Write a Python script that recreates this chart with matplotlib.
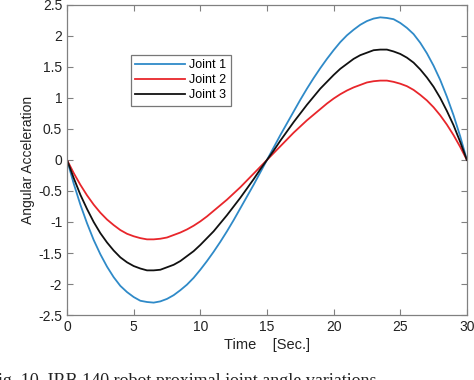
import matplotlib
matplotlib.use("Agg")
import matplotlib.pyplot as plt

plt.rcParams['font.family'] = ['Liberation Sans', 'DejaVu Sans']
plt.rcParams['axes.unicode_minus'] = False

tempo = [i * 0.5 for i in range(61)]

# aceleracao angular (passo de 0.5 s)
junta1 = [0, -0.38, -0.72, -1.02, -1.29, -1.52, -1.72, -1.89, -2.03, -2.13, -2.21,
          -2.27, -2.29, -2.30, -2.28, -2.24, -2.18, -2.10, -2.01, -1.90, -1.77,
          -1.63, -1.48, -1.32, -1.15, -0.97, -0.78, -0.59, -0.40, -0.20, 0,
          0.20, 0.40, 0.59, 0.78, 0.97, 1.15, 1.32, 1.48, 1.63, 1.77,
          1.90, 2.01, 2.10, 2.18, 2.24, 2.28, 2.30, 2.29, 2.27, 2.21,
          2.13, 2.03, 1.89, 1.72, 1.52, 1.29, 1.02, 0.72, 0.38, 0]
junta2 = [0, -0.21, -0.40, -0.57, -0.72, -0.85, -0.96, -1.05, -1.13, -1.19, -1.23,
          -1.26, -1.28, -1.28, -1.27, -1.25, -1.21, -1.17, -1.12, -1.06, -0.99,
          -0.91, -0.82, -0.73, -0.64, -0.54, -0.44, -0.33, -0.22, -0.11, 0,
          0.11, 0.22, 0.33, 0.44, 0.54, 0.64, 0.73, 0.82, 0.91, 0.99,
          1.06, 1.12, 1.17, 1.21, 1.25, 1.27, 1.28, 1.28, 1.26, 1.23,
          1.19, 1.13, 1.05, 0.96, 0.85, 0.72, 0.57, 0.40, 0.21, 0]
junta3 = [0, -0.29, -0.56, -0.79, -1.00, -1.18, -1.33, -1.46, -1.57, -1.65, -1.71,
          -1.75, -1.78, -1.78, -1.77, -1.73, -1.69, -1.63, -1.55, -1.47, -1.37,
          -1.26, -1.15, -1.02, -0.89, -0.75, -0.61, -0.46, -0.31, -0.15, 0,
          0.15, 0.31, 0.46, 0.61, 0.75, 0.89, 1.02, 1.15, 1.26, 1.37,
          1.47, 1.55, 1.63, 1.69, 1.73, 1.77, 1.78, 1.78, 1.75, 1.71,
          1.65, 1.57, 1.46, 1.33, 1.18, 1.00, 0.79, 0.56, 0.29, 0]

nomes = ["Joint 1", "Joint 2", "Joint 3"]
cores = ["#2f8ac8", "#e8262b", "#111111"]

fig = plt.figure(figsize=(4.74, 3.8), dpi=100)
ax = fig.add_axes([0.1414, 0.171, 0.8436, 0.816])

for serie, nome, cor in zip([junta1, junta2, junta3], nomes, cores):
    ax.plot(tempo, serie, color=cor, lw=1.3, label=nome)

ax.set_xlim(0, 30)
ax.set_ylim(-2.5, 2.5)
ax.set_xticks([0, 5, 10, 15, 20, 25, 30])
ax.set_yticks([-2.5, -2, -1.5, -1, -0.5, 0, 0.5, 1, 1.5, 2, 2.5])
ax.set_yticklabels(["-2.5", "-2", "-1.5", "-1", "-0.5", "0", "0.5", "1", "1.5", "2", "2.5"])
ax.tick_params(direction="in", top=True, right=True, length=4, width=0.8,
               labelsize=10, colors="#808080", labelcolor="#222222")
for s in ax.spines.values():
    s.set_color("#808080")
    s.set_linewidth(0.9)

ax.set_xlabel("Time    [Sec.]", fontsize=10.5, color="#222222", labelpad=3)
ax.set_ylabel("Angular Acceleration", fontsize=10, color="#222222", labelpad=2)

leg = ax.legend(loc="upper left", bbox_to_anchor=(0.16, 0.84), fontsize=9,
                frameon=True, fancybox=False, borderpad=0.35, labelspacing=0.25,
                handlelength=4.0, handletextpad=0.3, borderaxespad=0)
leg.get_frame().set_edgecolor("#555555")
leg.get_frame().set_linewidth(0.9)

# legenda da figura, cortada embaixo como na imagem original
fig.text(-0.025, 0.018, "Fig. 10. IRB 140 robot proximal joint angle variations",
         family=["Liberation Serif", "DejaVu Serif"], fontsize=13, color="#222222",
         ha="left", va="top")

fig.savefig("out.png", dpi=100)
